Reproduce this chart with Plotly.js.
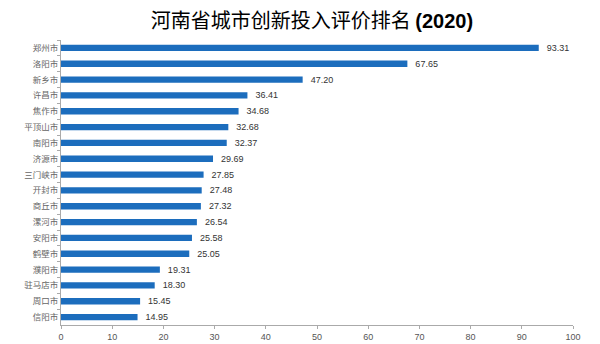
<!DOCTYPE html>
<html><head><meta charset="utf-8">
<script src="https://cdn.plot.ly/plotly-3.0.1.min.js"></script>
<style>body{margin:0}#c{width:600px;height:344px}</style>
</head><body><div id="c"></div>
<script>
const cities = ["郑州市","洛阳市","新乡市","许昌市","焦作市","平顶山市","南阳市","济源市","三门峡市","开封市","商丘市","漯河市","安阳市","鹤壁市","濮阳市","驻马店市","周口市","信阳市"];
const scores = [93.31,67.65,47.20,36.41,34.68,32.68,32.37,29.69,27.85,27.48,27.32,26.54,25.58,25.05,19.31,18.30,15.45,14.95];
const xTicks = [0,10,20,30,40,50,60,70,80,90,100];

Plotly.newPlot('c', [{
  type: 'bar', orientation: 'h',
  x: scores, y: cities,
  marker: {color: '#1c6dbd'},
  text: scores.map(v => '  ' + v.toFixed(2)),
  textposition: 'outside',
  constraintext: 'none',
  textfont: {size: 9, color: '#333', family: 'Liberation Sans, Arial'},
  cliponaxis: false,
  hoverinfo: 'none'
}], {
  width: 600, height: 344,
  margin: {l: 61, r: 27, t: 40, b: 19},
  paper_bgcolor: '#fff', plot_bgcolor: '#fff',
  bargap: 0.6,
  showlegend: false,
  title: {text: '河南省城市创新投入评价排名 <b style="font-family:Liberation Sans">(2020)</b>',
    xref: 'container', x: 0.52, xanchor: 'center', yref: 'container', y: 0.94, yanchor: 'middle',
    font: {size: 20, color: '#000', family: 'Noto Sans CJK SC'}},
  xaxis: {range: [0, 100], tickvals: xTicks, showgrid: false, zeroline: false,
    showline: true, linecolor: '#aaa', linewidth: 1, ticks: 'outside', ticklen: 3, tickcolor: '#aaa',
    tickfont: {size: 9, color: '#555', family: 'Liberation Sans, Arial'}, fixedrange: true},
  yaxis: {autorange: 'reversed', showgrid: false, zeroline: false,
    showline: true, linecolor: '#aaa', linewidth: 1, ticks: 'outside', ticklen: 3, tickcolor: '#aaa',
    tickson: 'boundaries',
    tickfont: {size: 8.5, color: '#666', family: 'Noto Sans CJK SC'}, fixedrange: true}
}, {displayModeBar: false, staticPlot: true});
</script></body></html>
